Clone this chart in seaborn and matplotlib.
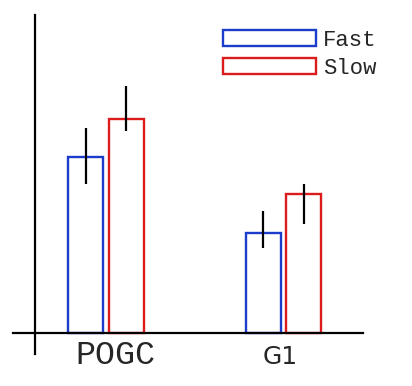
import numpy as np
import pandas as pd
import matplotlib
matplotlib.use("Agg")
import matplotlib.pyplot as plt
from matplotlib.patches import Patch
from matplotlib.transforms import ScaledTranslation
import seaborn as sns

groups = ["POGC", "G1"]
speeds = ["Fast", "Slow"]
fast_vals = [17.6, 10.0]
slow_vals = [21.4, 13.9]
fast_err_lo = [2.7, 1.5]
fast_err_hi = [2.9, 2.2]
slow_err_lo = [1.2, 3.0]
slow_err_hi = [3.3, 1.0]

blue = "#1c3ccc"
red = "#dc1c1c"

df = pd.DataFrame({
    "group": groups * 2,
    "speed": ["Fast"] * 2 + ["Slow"] * 2,
    "value": fast_vals + slow_vals,
})

sns.set_style("white")
fig = plt.figure(figsize=(4.12, 3.86), dpi=100)
ax = fig.add_axes([13 / 412, 1 - 354 / 386, 350 / 412, 339 / 386])

sns.barplot(data=df, x="group", y="value", hue="speed", order=groups,
            hue_order=speeds, palette=[blue, red], fill=False, width=0.46,
            gap=0.14, errorbar=None, legend=False, linewidth=1.7, ax=ax)

# error bars (asymmetric), placed on the bar centres
lo = [fast_err_lo, slow_err_lo]
hi = [fast_err_hi, slow_err_hi]
bar_conts = list(ax.containers)
for i, cont in enumerate(bar_conts):
    xs = [b.get_x() + b.get_width() / 2 for b in cont]
    ys = [b.get_height() for b in cont]
    ax.errorbar(xs, ys, yerr=[lo[i], hi[i]], fmt="none", ecolor="black",
                elinewidth=1.6, capsize=0)

ax.set_xlim(-0.524, 1.448)
ax.set_ylim(-2.1, 31.8)
ax.spines["left"].set_position(("data", -0.4))
ax.spines["bottom"].set_position(("data", 0))
for s in ["top", "right"]:
    ax.spines[s].set_visible(False)
for s in ["left", "bottom"]:
    ax.spines[s].set_linewidth(1.6)
    ax.spines[s].set_color("black")
ax.set_yticks([])
ax.set_xlabel("")
ax.set_ylabel("")
ax.tick_params(axis="x", length=0, pad=9)
labs = ax.get_xticklabels()
labs[0].set_fontfamily("Liberation Mono")
labs[0].set_fontsize(24)
labs[0].set_transform(labs[0].get_transform() + ScaledTranslation(9 / 100, 5 / 100, fig.dpi_scale_trans))
labs[1].set_fontfamily("DejaVu Sans")
labs[1].set_fontsize(18)
labs[1].set_transform(labs[1].get_transform() + ScaledTranslation(-3 / 100, 0, fig.dpi_scale_trans))
ax.patch.set_alpha(0)

handles = [Patch(facecolor="none", edgecolor=blue, linewidth=1.7, label="Fast"),
           Patch(facecolor="none", edgecolor=red, linewidth=1.7, label="Slow")]
leg = fig.legend(handles=handles, loc="upper left", bbox_to_anchor=(223 / 412, 1 - 30 / 386),
                 frameon=False, prop={"family": "Liberation Mono", "size": 16},
                 handlelength=4.2, handleheight=0.75, handletextpad=0.3,
                 labelspacing=0.3, borderpad=0, borderaxespad=0)

fig.savefig("out.png", dpi=100)
